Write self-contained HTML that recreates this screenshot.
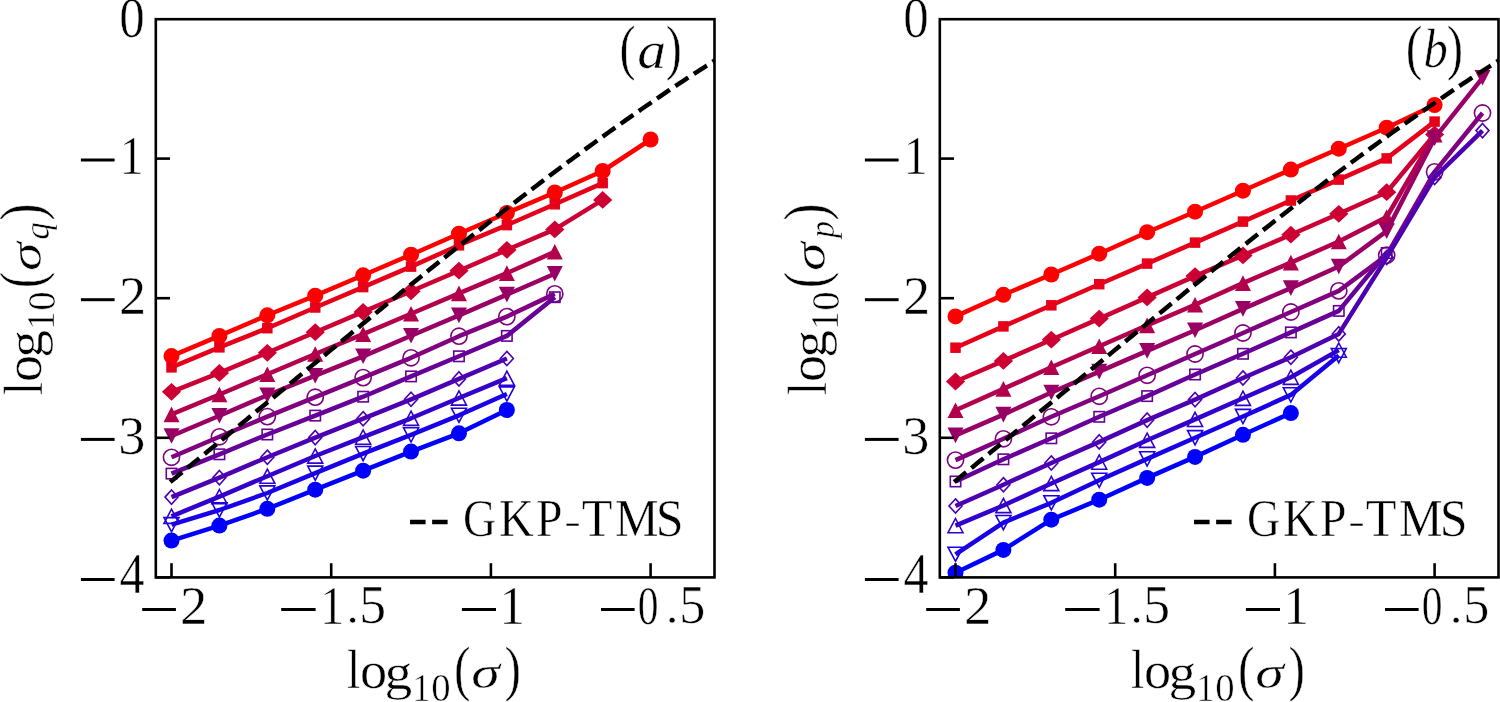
<!DOCTYPE html>
<html><head><meta charset="utf-8"><style>
html,body{margin:0;padding:0;background:#fff;}
svg{display:block;will-change:transform;}
text{font-family:"Liberation Serif", serif;fill:#000;stroke:#fff;stroke-width:0.5px;vector-effect:non-scaling-stroke;}
</style></head><body>
<svg width="1500" height="702" viewBox="0 0 1500 702">
<rect width="1500" height="702" fill="#fff"/>
<clipPath id="clip0"><rect x="155.80" y="19.2" width="558.7" height="558.2"/></clipPath>
<g clip-path="url(#clip0)"><polyline points="171.50,356.10 219.41,335.90 267.32,315.30 315.23,295.70 363.14,275.30 411.05,254.70 458.96,233.70 506.87,213.00 554.78,192.50 602.69,171.00 650.60,139.50" fill="none" stroke="#ff0000" stroke-width="4.5" stroke-linejoin="round" stroke-linecap="butt"/><circle cx="171.50" cy="356.10" r="8.0" fill="#ff0000"/><circle cx="219.41" cy="335.90" r="8.0" fill="#ff0000"/><circle cx="267.32" cy="315.30" r="8.0" fill="#ff0000"/><circle cx="315.23" cy="295.70" r="8.0" fill="#ff0000"/><circle cx="363.14" cy="275.30" r="8.0" fill="#ff0000"/><circle cx="411.05" cy="254.70" r="8.0" fill="#ff0000"/><circle cx="458.96" cy="233.70" r="8.0" fill="#ff0000"/><circle cx="506.87" cy="213.00" r="8.0" fill="#ff0000"/><circle cx="554.78" cy="192.50" r="8.0" fill="#ff0000"/><circle cx="602.69" cy="171.00" r="8.0" fill="#ff0000"/><circle cx="650.60" cy="139.50" r="8.0" fill="#ff0000"/><polyline points="171.50,367.35 219.41,347.35 267.32,328.20 315.23,307.50 363.14,287.10 411.05,266.60 458.96,245.30 506.87,225.10 554.78,204.30 602.69,183.10" fill="none" stroke="#e6001a" stroke-width="4.5" stroke-linejoin="round" stroke-linecap="butt"/><rect x="166.25" y="362.10" width="10.50" height="10.50" fill="#e6001a"/><rect x="214.16" y="342.10" width="10.50" height="10.50" fill="#e6001a"/><rect x="262.07" y="322.95" width="10.50" height="10.50" fill="#e6001a"/><rect x="309.98" y="302.25" width="10.50" height="10.50" fill="#e6001a"/><rect x="357.89" y="281.85" width="10.50" height="10.50" fill="#e6001a"/><rect x="405.80" y="261.35" width="10.50" height="10.50" fill="#e6001a"/><rect x="453.71" y="240.05" width="10.50" height="10.50" fill="#e6001a"/><rect x="501.62" y="219.85" width="10.50" height="10.50" fill="#e6001a"/><rect x="549.53" y="199.05" width="10.50" height="10.50" fill="#e6001a"/><rect x="597.44" y="177.85" width="10.50" height="10.50" fill="#e6001a"/><polyline points="171.50,391.80 219.41,372.90 267.32,352.80 315.23,332.20 363.14,311.90 411.05,291.30 458.96,270.70 506.87,249.90 554.78,229.40 602.69,199.90" fill="none" stroke="#cc0033" stroke-width="4.5" stroke-linejoin="round" stroke-linecap="butt"/><path d="M171.50 382.90L181.10 391.80L171.50 400.70L161.90 391.80Z" fill="#cc0033"/><path d="M219.41 364.00L229.01 372.90L219.41 381.80L209.81 372.90Z" fill="#cc0033"/><path d="M267.32 343.90L276.92 352.80L267.32 361.70L257.72 352.80Z" fill="#cc0033"/><path d="M315.23 323.30L324.83 332.20L315.23 341.10L305.63 332.20Z" fill="#cc0033"/><path d="M363.14 303.00L372.74 311.90L363.14 320.80L353.54 311.90Z" fill="#cc0033"/><path d="M411.05 282.40L420.65 291.30L411.05 300.20L401.45 291.30Z" fill="#cc0033"/><path d="M458.96 261.80L468.56 270.70L458.96 279.60L449.36 270.70Z" fill="#cc0033"/><path d="M506.87 241.00L516.47 249.90L506.87 258.80L497.27 249.90Z" fill="#cc0033"/><path d="M554.78 220.50L564.38 229.40L554.78 238.30L545.18 229.40Z" fill="#cc0033"/><path d="M602.69 191.00L612.29 199.90L602.69 208.80L593.09 199.90Z" fill="#cc0033"/><polyline points="171.50,414.40 219.41,394.50 267.32,374.20 315.23,354.00 363.14,334.10 411.05,313.80 458.96,293.40 506.87,273.10 554.78,251.80" fill="none" stroke="#b2004c" stroke-width="4.5" stroke-linejoin="round" stroke-linecap="butt"/><path d="M171.50 406.60L179.50 422.20L163.50 422.20Z" fill="#b2004c"/><path d="M219.41 386.70L227.41 402.30L211.41 402.30Z" fill="#b2004c"/><path d="M267.32 366.40L275.32 382.00L259.32 382.00Z" fill="#b2004c"/><path d="M315.23 346.20L323.23 361.80L307.23 361.80Z" fill="#b2004c"/><path d="M363.14 326.30L371.14 341.90L355.14 341.90Z" fill="#b2004c"/><path d="M411.05 306.00L419.05 321.60L403.05 321.60Z" fill="#b2004c"/><path d="M458.96 285.60L466.96 301.20L450.96 301.20Z" fill="#b2004c"/><path d="M506.87 265.30L514.87 280.90L498.87 280.90Z" fill="#b2004c"/><path d="M554.78 244.00L562.78 259.60L546.78 259.60Z" fill="#b2004c"/><polyline points="171.50,436.00 219.41,415.70 267.32,395.20 315.23,375.70 363.14,356.30 411.05,335.70 458.96,315.40 506.87,294.60 554.78,273.80" fill="none" stroke="#990066" stroke-width="4.5" stroke-linejoin="round" stroke-linecap="butt"/><path d="M171.50 443.80L179.50 428.20L163.50 428.20Z" fill="#990066"/><path d="M219.41 423.50L227.41 407.90L211.41 407.90Z" fill="#990066"/><path d="M267.32 403.00L275.32 387.40L259.32 387.40Z" fill="#990066"/><path d="M315.23 383.50L323.23 367.90L307.23 367.90Z" fill="#990066"/><path d="M363.14 364.10L371.14 348.50L355.14 348.50Z" fill="#990066"/><path d="M411.05 343.50L419.05 327.90L403.05 327.90Z" fill="#990066"/><path d="M458.96 323.20L466.96 307.60L450.96 307.60Z" fill="#990066"/><path d="M506.87 302.40L514.87 286.80L498.87 286.80Z" fill="#990066"/><path d="M554.78 281.60L562.78 266.00L546.78 266.00Z" fill="#990066"/><polyline points="171.50,457.30 219.41,436.80 267.32,416.60 315.23,397.20 363.14,377.60 411.05,357.80 458.96,336.20 506.87,316.60 554.78,293.90" fill="none" stroke="#800080" stroke-width="4.5" stroke-linejoin="round" stroke-linecap="butt"/><circle cx="171.50" cy="457.30" r="8.1" fill="none" stroke="#800080" stroke-width="1.6"/><circle cx="219.41" cy="436.80" r="8.1" fill="none" stroke="#800080" stroke-width="1.6"/><circle cx="267.32" cy="416.60" r="8.1" fill="none" stroke="#800080" stroke-width="1.6"/><circle cx="315.23" cy="397.20" r="8.1" fill="none" stroke="#800080" stroke-width="1.6"/><circle cx="363.14" cy="377.60" r="8.1" fill="none" stroke="#800080" stroke-width="1.6"/><circle cx="411.05" cy="357.80" r="8.1" fill="none" stroke="#800080" stroke-width="1.6"/><circle cx="458.96" cy="336.20" r="8.1" fill="none" stroke="#800080" stroke-width="1.6"/><circle cx="506.87" cy="316.60" r="8.1" fill="none" stroke="#800080" stroke-width="1.6"/><circle cx="554.78" cy="293.90" r="8.1" fill="none" stroke="#800080" stroke-width="1.6"/><polyline points="171.50,473.60 219.41,454.30 267.32,434.50 315.23,415.60 363.14,396.70 411.05,376.40 458.96,356.30 506.87,335.90 554.78,297.20" fill="none" stroke="#660099" stroke-width="4.5" stroke-linejoin="round" stroke-linecap="butt"/><rect x="166.30" y="468.40" width="10.40" height="10.40" fill="none" stroke="#660099" stroke-width="1.6"/><rect x="214.21" y="449.10" width="10.40" height="10.40" fill="none" stroke="#660099" stroke-width="1.6"/><rect x="262.12" y="429.30" width="10.40" height="10.40" fill="none" stroke="#660099" stroke-width="1.6"/><rect x="310.03" y="410.40" width="10.40" height="10.40" fill="none" stroke="#660099" stroke-width="1.6"/><rect x="357.94" y="391.50" width="10.40" height="10.40" fill="none" stroke="#660099" stroke-width="1.6"/><rect x="405.85" y="371.20" width="10.40" height="10.40" fill="none" stroke="#660099" stroke-width="1.6"/><rect x="453.76" y="351.10" width="10.40" height="10.40" fill="none" stroke="#660099" stroke-width="1.6"/><rect x="501.67" y="330.70" width="10.40" height="10.40" fill="none" stroke="#660099" stroke-width="1.6"/><rect x="549.58" y="292.00" width="10.40" height="10.40" fill="none" stroke="#660099" stroke-width="1.6"/><polyline points="171.50,497.10 219.41,477.60 267.32,457.20 315.23,437.60 363.14,418.70 411.05,399.30 458.96,378.90 506.87,358.50" fill="none" stroke="#4d00b2" stroke-width="4.5" stroke-linejoin="round" stroke-linecap="butt"/><path d="M171.50 490.00L178.00 497.10L171.50 504.20L165.00 497.10Z" fill="none" stroke="#4d00b2" stroke-width="1.6"/><path d="M219.41 470.50L225.91 477.60L219.41 484.70L212.91 477.60Z" fill="none" stroke="#4d00b2" stroke-width="1.6"/><path d="M267.32 450.10L273.82 457.20L267.32 464.30L260.82 457.20Z" fill="none" stroke="#4d00b2" stroke-width="1.6"/><path d="M315.23 430.50L321.73 437.60L315.23 444.70L308.73 437.60Z" fill="none" stroke="#4d00b2" stroke-width="1.6"/><path d="M363.14 411.60L369.64 418.70L363.14 425.80L356.64 418.70Z" fill="none" stroke="#4d00b2" stroke-width="1.6"/><path d="M411.05 392.20L417.55 399.30L411.05 406.40L404.55 399.30Z" fill="none" stroke="#4d00b2" stroke-width="1.6"/><path d="M458.96 371.80L465.46 378.90L458.96 386.00L452.46 378.90Z" fill="none" stroke="#4d00b2" stroke-width="1.6"/><path d="M506.87 351.40L513.37 358.50L506.87 365.60L500.37 358.50Z" fill="none" stroke="#4d00b2" stroke-width="1.6"/><polyline points="171.50,516.30 219.41,496.60 267.32,476.20 315.23,456.00 363.14,437.10 411.05,418.30 458.96,398.00 506.87,378.20" fill="none" stroke="#3300cc" stroke-width="4.5" stroke-linejoin="round" stroke-linecap="butt"/><path d="M171.50 509.20L179.00 523.40L164.00 523.40Z" fill="none" stroke="#3300cc" stroke-width="1.6"/><path d="M219.41 489.50L226.91 503.70L211.91 503.70Z" fill="none" stroke="#3300cc" stroke-width="1.6"/><path d="M267.32 469.10L274.82 483.30L259.82 483.30Z" fill="none" stroke="#3300cc" stroke-width="1.6"/><path d="M315.23 448.90L322.73 463.10L307.73 463.10Z" fill="none" stroke="#3300cc" stroke-width="1.6"/><path d="M363.14 430.00L370.64 444.20L355.64 444.20Z" fill="none" stroke="#3300cc" stroke-width="1.6"/><path d="M411.05 411.20L418.55 425.40L403.55 425.40Z" fill="none" stroke="#3300cc" stroke-width="1.6"/><path d="M458.96 390.90L466.46 405.10L451.46 405.10Z" fill="none" stroke="#3300cc" stroke-width="1.6"/><path d="M506.87 371.10L514.37 385.30L499.37 385.30Z" fill="none" stroke="#3300cc" stroke-width="1.6"/><polyline points="171.50,524.70 219.41,510.00 267.32,493.00 315.23,473.20 363.14,453.60 411.05,434.90 458.96,415.30 506.87,394.00" fill="none" stroke="#1900e6" stroke-width="4.5" stroke-linejoin="round" stroke-linecap="butt"/><path d="M171.50 531.80L179.00 517.60L164.00 517.60Z" fill="none" stroke="#1900e6" stroke-width="1.6"/><path d="M219.41 517.10L226.91 502.90L211.91 502.90Z" fill="none" stroke="#1900e6" stroke-width="1.6"/><path d="M267.32 500.10L274.82 485.90L259.82 485.90Z" fill="none" stroke="#1900e6" stroke-width="1.6"/><path d="M315.23 480.30L322.73 466.10L307.73 466.10Z" fill="none" stroke="#1900e6" stroke-width="1.6"/><path d="M363.14 460.70L370.64 446.50L355.64 446.50Z" fill="none" stroke="#1900e6" stroke-width="1.6"/><path d="M411.05 442.00L418.55 427.80L403.55 427.80Z" fill="none" stroke="#1900e6" stroke-width="1.6"/><path d="M458.96 422.40L466.46 408.20L451.46 408.20Z" fill="none" stroke="#1900e6" stroke-width="1.6"/><path d="M506.87 401.10L514.37 386.90L499.37 386.90Z" fill="none" stroke="#1900e6" stroke-width="1.6"/><polyline points="171.50,540.60 219.41,525.60 267.32,508.80 315.23,489.70 363.14,470.70 411.05,451.60 458.96,433.30 506.87,410.00" fill="none" stroke="#0000ff" stroke-width="4.5" stroke-linejoin="round" stroke-linecap="butt"/><circle cx="171.50" cy="540.60" r="8.0" fill="#0000ff"/><circle cx="219.41" cy="525.60" r="8.0" fill="#0000ff"/><circle cx="267.32" cy="508.80" r="8.0" fill="#0000ff"/><circle cx="315.23" cy="489.70" r="8.0" fill="#0000ff"/><circle cx="363.14" cy="470.70" r="8.0" fill="#0000ff"/><circle cx="411.05" cy="451.60" r="8.0" fill="#0000ff"/><circle cx="458.96" cy="433.30" r="8.0" fill="#0000ff"/><circle cx="506.87" cy="410.00" r="8.0" fill="#0000ff"/><polyline points="170.20,481.95 174.90,478.14 179.61,474.32 184.31,470.50 189.02,466.67 193.72,462.84 198.43,459.00 203.13,455.16 207.83,451.31 212.54,447.46 217.24,443.61 221.95,439.75 226.65,435.89 231.35,432.03 236.06,428.16 240.76,424.30 245.47,420.43 250.17,416.55 254.88,412.68 259.58,408.80 264.28,404.93 268.99,401.05 273.69,397.17 278.40,393.29 283.10,389.41 287.81,385.53 292.51,381.65 297.21,377.77 301.92,373.88 306.62,370.01 311.33,366.13 316.03,362.25 320.73,358.37 325.44,354.50 330.14,350.62 334.85,346.75 339.55,342.88 344.26,339.01 348.96,335.15 353.66,331.29 358.37,327.43 363.07,323.57 367.78,319.72 372.48,315.87 377.18,312.03 381.89,308.19 386.59,304.35 391.30,300.52 396.00,296.69 400.71,292.87 405.41,289.05 410.11,285.24 414.82,281.44 419.52,277.64 424.23,273.85 428.93,270.06 433.64,266.28 438.34,262.50 443.04,258.74 447.75,254.98 452.45,251.23 457.16,247.48 461.86,243.74 466.56,240.02 471.27,236.30 475.97,232.58 480.68,228.88 485.38,225.19 490.09,221.50 494.79,217.83 499.49,214.16 504.20,210.51 508.90,206.86 513.61,203.23 518.31,199.60 523.02,195.99 527.72,192.38 532.42,188.79 537.13,185.21 541.83,181.64 546.54,178.09 551.24,174.54 555.94,171.01 560.65,167.49 565.35,163.98 570.06,160.49 574.76,157.00 579.47,153.54 584.17,150.08 588.87,146.64 593.58,143.22 598.28,139.80 602.99,136.41 607.69,133.02 612.39,129.66 617.10,126.30 621.80,122.97 626.51,119.64 631.21,116.34 635.92,113.05 640.62,109.77 645.32,106.52 650.03,103.28 654.73,100.05 659.44,96.85 664.14,93.66 668.85,90.49 673.55,87.33 678.25,84.20 682.96,81.08 687.66,77.98 692.37,74.90 697.07,71.84 701.77,68.80 706.48,65.78 711.18,62.77 715.89,59.79 720.59,56.83 725.30,53.88 730.00,50.96" fill="none" stroke="#000" stroke-width="4.5" stroke-dasharray="15.5 6.64"/></g>
<clipPath id="clip1"><rect x="939.80" y="19.2" width="558.7" height="558.2"/></clipPath>
<g clip-path="url(#clip1)"><polyline points="955.50,316.40 1003.41,294.80 1051.32,274.50 1099.23,253.70 1147.14,232.20 1195.05,211.70 1242.96,190.70 1290.87,169.60 1338.78,148.70 1386.69,127.70 1434.60,105.00" fill="none" stroke="#ff0000" stroke-width="4.5" stroke-linejoin="round" stroke-linecap="butt"/><circle cx="955.50" cy="316.40" r="8.0" fill="#ff0000"/><circle cx="1003.41" cy="294.80" r="8.0" fill="#ff0000"/><circle cx="1051.32" cy="274.50" r="8.0" fill="#ff0000"/><circle cx="1099.23" cy="253.70" r="8.0" fill="#ff0000"/><circle cx="1147.14" cy="232.20" r="8.0" fill="#ff0000"/><circle cx="1195.05" cy="211.70" r="8.0" fill="#ff0000"/><circle cx="1242.96" cy="190.70" r="8.0" fill="#ff0000"/><circle cx="1290.87" cy="169.60" r="8.0" fill="#ff0000"/><circle cx="1338.78" cy="148.70" r="8.0" fill="#ff0000"/><circle cx="1386.69" cy="127.70" r="8.0" fill="#ff0000"/><circle cx="1434.60" cy="105.00" r="8.0" fill="#ff0000"/><polyline points="955.50,347.70 1003.41,326.40 1051.32,305.30 1099.23,284.20 1147.14,263.60 1195.05,242.60 1242.96,221.60 1290.87,200.50 1338.78,179.60 1386.69,158.40 1434.60,121.60" fill="none" stroke="#e6001a" stroke-width="4.5" stroke-linejoin="round" stroke-linecap="butt"/><rect x="950.25" y="342.45" width="10.50" height="10.50" fill="#e6001a"/><rect x="998.16" y="321.15" width="10.50" height="10.50" fill="#e6001a"/><rect x="1046.07" y="300.05" width="10.50" height="10.50" fill="#e6001a"/><rect x="1093.98" y="278.95" width="10.50" height="10.50" fill="#e6001a"/><rect x="1141.89" y="258.35" width="10.50" height="10.50" fill="#e6001a"/><rect x="1189.80" y="237.35" width="10.50" height="10.50" fill="#e6001a"/><rect x="1237.71" y="216.35" width="10.50" height="10.50" fill="#e6001a"/><rect x="1285.62" y="195.25" width="10.50" height="10.50" fill="#e6001a"/><rect x="1333.53" y="174.35" width="10.50" height="10.50" fill="#e6001a"/><rect x="1381.44" y="153.15" width="10.50" height="10.50" fill="#e6001a"/><rect x="1429.35" y="116.35" width="10.50" height="10.50" fill="#e6001a"/><polyline points="955.50,381.50 1003.41,360.90 1051.32,339.70 1099.23,318.60 1147.14,297.40 1195.05,276.10 1242.96,255.40 1290.87,234.70 1338.78,213.80 1386.69,192.20 1434.60,134.50" fill="none" stroke="#cc0033" stroke-width="4.5" stroke-linejoin="round" stroke-linecap="butt"/><path d="M955.50 372.60L965.10 381.50L955.50 390.40L945.90 381.50Z" fill="#cc0033"/><path d="M1003.41 352.00L1013.01 360.90L1003.41 369.80L993.81 360.90Z" fill="#cc0033"/><path d="M1051.32 330.80L1060.92 339.70L1051.32 348.60L1041.72 339.70Z" fill="#cc0033"/><path d="M1099.23 309.70L1108.83 318.60L1099.23 327.50L1089.63 318.60Z" fill="#cc0033"/><path d="M1147.14 288.50L1156.74 297.40L1147.14 306.30L1137.54 297.40Z" fill="#cc0033"/><path d="M1195.05 267.20L1204.65 276.10L1195.05 285.00L1185.45 276.10Z" fill="#cc0033"/><path d="M1242.96 246.50L1252.56 255.40L1242.96 264.30L1233.36 255.40Z" fill="#cc0033"/><path d="M1290.87 225.80L1300.47 234.70L1290.87 243.60L1281.27 234.70Z" fill="#cc0033"/><path d="M1338.78 204.90L1348.38 213.80L1338.78 222.70L1329.18 213.80Z" fill="#cc0033"/><path d="M1386.69 183.30L1396.29 192.20L1386.69 201.10L1377.09 192.20Z" fill="#cc0033"/><path d="M1434.60 125.60L1444.20 134.50L1434.60 143.40L1425.00 134.50Z" fill="#cc0033"/><polyline points="955.50,410.20 1003.41,388.90 1051.32,367.30 1099.23,346.20 1147.14,325.40 1195.05,304.80 1242.96,283.10 1290.87,262.60 1338.78,241.50 1386.69,217.00 1434.60,134.80" fill="none" stroke="#b2004c" stroke-width="4.5" stroke-linejoin="round" stroke-linecap="butt"/><path d="M955.50 402.40L963.50 418.00L947.50 418.00Z" fill="#b2004c"/><path d="M1003.41 381.10L1011.41 396.70L995.41 396.70Z" fill="#b2004c"/><path d="M1051.32 359.50L1059.32 375.10L1043.32 375.10Z" fill="#b2004c"/><path d="M1099.23 338.40L1107.23 354.00L1091.23 354.00Z" fill="#b2004c"/><path d="M1147.14 317.60L1155.14 333.20L1139.14 333.20Z" fill="#b2004c"/><path d="M1195.05 297.00L1203.05 312.60L1187.05 312.60Z" fill="#b2004c"/><path d="M1242.96 275.30L1250.96 290.90L1234.96 290.90Z" fill="#b2004c"/><path d="M1290.87 254.80L1298.87 270.40L1282.87 270.40Z" fill="#b2004c"/><path d="M1338.78 233.70L1346.78 249.30L1330.78 249.30Z" fill="#b2004c"/><path d="M1386.69 209.20L1394.69 224.80L1378.69 224.80Z" fill="#b2004c"/><path d="M1434.60 127.00L1442.60 142.60L1426.60 142.60Z" fill="#b2004c"/><polyline points="955.50,435.40 1003.41,414.60 1051.32,392.50 1099.23,371.60 1147.14,350.90 1195.05,330.30 1242.96,308.90 1290.87,288.10 1338.78,266.50 1386.69,231.10 1434.60,138.10 1482.51,77.80" fill="none" stroke="#990066" stroke-width="4.5" stroke-linejoin="round" stroke-linecap="butt"/><path d="M955.50 443.20L963.50 427.60L947.50 427.60Z" fill="#990066"/><path d="M1003.41 422.40L1011.41 406.80L995.41 406.80Z" fill="#990066"/><path d="M1051.32 400.30L1059.32 384.70L1043.32 384.70Z" fill="#990066"/><path d="M1099.23 379.40L1107.23 363.80L1091.23 363.80Z" fill="#990066"/><path d="M1147.14 358.70L1155.14 343.10L1139.14 343.10Z" fill="#990066"/><path d="M1195.05 338.10L1203.05 322.50L1187.05 322.50Z" fill="#990066"/><path d="M1242.96 316.70L1250.96 301.10L1234.96 301.10Z" fill="#990066"/><path d="M1290.87 295.90L1298.87 280.30L1282.87 280.30Z" fill="#990066"/><path d="M1338.78 274.30L1346.78 258.70L1330.78 258.70Z" fill="#990066"/><path d="M1386.69 238.90L1394.69 223.30L1378.69 223.30Z" fill="#990066"/><path d="M1434.60 145.90L1442.60 130.30L1426.60 130.30Z" fill="#990066"/><path d="M1482.51 85.60L1490.51 70.00L1474.51 70.00Z" fill="#990066"/><polyline points="955.50,460.10 1003.41,438.80 1051.32,416.80 1099.23,396.30 1147.14,375.30 1195.05,354.00 1242.96,333.00 1290.87,312.00 1338.78,290.90 1386.69,255.20 1434.60,171.90 1482.51,113.00" fill="none" stroke="#800080" stroke-width="4.5" stroke-linejoin="round" stroke-linecap="butt"/><circle cx="955.50" cy="460.10" r="8.1" fill="none" stroke="#800080" stroke-width="1.6"/><circle cx="1003.41" cy="438.80" r="8.1" fill="none" stroke="#800080" stroke-width="1.6"/><circle cx="1051.32" cy="416.80" r="8.1" fill="none" stroke="#800080" stroke-width="1.6"/><circle cx="1099.23" cy="396.30" r="8.1" fill="none" stroke="#800080" stroke-width="1.6"/><circle cx="1147.14" cy="375.30" r="8.1" fill="none" stroke="#800080" stroke-width="1.6"/><circle cx="1195.05" cy="354.00" r="8.1" fill="none" stroke="#800080" stroke-width="1.6"/><circle cx="1242.96" cy="333.00" r="8.1" fill="none" stroke="#800080" stroke-width="1.6"/><circle cx="1290.87" cy="312.00" r="8.1" fill="none" stroke="#800080" stroke-width="1.6"/><circle cx="1338.78" cy="290.90" r="8.1" fill="none" stroke="#800080" stroke-width="1.6"/><circle cx="1386.69" cy="255.20" r="8.1" fill="none" stroke="#800080" stroke-width="1.6"/><circle cx="1434.60" cy="171.90" r="8.1" fill="none" stroke="#800080" stroke-width="1.6"/><circle cx="1482.51" cy="113.00" r="8.1" fill="none" stroke="#800080" stroke-width="1.6"/><polyline points="955.50,481.50 1003.41,459.30 1051.32,438.30 1099.23,416.80 1147.14,396.10 1195.05,374.50 1242.96,353.80 1290.87,332.40 1338.78,310.90 1386.69,253.00" fill="none" stroke="#660099" stroke-width="4.5" stroke-linejoin="round" stroke-linecap="butt"/><rect x="950.30" y="476.30" width="10.40" height="10.40" fill="none" stroke="#660099" stroke-width="1.6"/><rect x="998.21" y="454.10" width="10.40" height="10.40" fill="none" stroke="#660099" stroke-width="1.6"/><rect x="1046.12" y="433.10" width="10.40" height="10.40" fill="none" stroke="#660099" stroke-width="1.6"/><rect x="1094.03" y="411.60" width="10.40" height="10.40" fill="none" stroke="#660099" stroke-width="1.6"/><rect x="1141.94" y="390.90" width="10.40" height="10.40" fill="none" stroke="#660099" stroke-width="1.6"/><rect x="1189.85" y="369.30" width="10.40" height="10.40" fill="none" stroke="#660099" stroke-width="1.6"/><rect x="1237.76" y="348.60" width="10.40" height="10.40" fill="none" stroke="#660099" stroke-width="1.6"/><rect x="1285.67" y="327.20" width="10.40" height="10.40" fill="none" stroke="#660099" stroke-width="1.6"/><rect x="1333.58" y="305.70" width="10.40" height="10.40" fill="none" stroke="#660099" stroke-width="1.6"/><rect x="1381.49" y="247.80" width="10.40" height="10.40" fill="none" stroke="#660099" stroke-width="1.6"/><polyline points="955.50,506.00 1003.41,484.70 1051.32,463.00 1099.23,441.90 1147.14,420.10 1195.05,399.60 1242.96,378.00 1290.87,357.20 1338.78,333.90 1386.69,257.50 1434.60,177.40 1482.51,130.60" fill="none" stroke="#4d00b2" stroke-width="4.5" stroke-linejoin="round" stroke-linecap="butt"/><path d="M955.50 498.90L962.00 506.00L955.50 513.10L949.00 506.00Z" fill="none" stroke="#4d00b2" stroke-width="1.6"/><path d="M1003.41 477.60L1009.91 484.70L1003.41 491.80L996.91 484.70Z" fill="none" stroke="#4d00b2" stroke-width="1.6"/><path d="M1051.32 455.90L1057.82 463.00L1051.32 470.10L1044.82 463.00Z" fill="none" stroke="#4d00b2" stroke-width="1.6"/><path d="M1099.23 434.80L1105.73 441.90L1099.23 449.00L1092.73 441.90Z" fill="none" stroke="#4d00b2" stroke-width="1.6"/><path d="M1147.14 413.00L1153.64 420.10L1147.14 427.20L1140.64 420.10Z" fill="none" stroke="#4d00b2" stroke-width="1.6"/><path d="M1195.05 392.50L1201.55 399.60L1195.05 406.70L1188.55 399.60Z" fill="none" stroke="#4d00b2" stroke-width="1.6"/><path d="M1242.96 370.90L1249.46 378.00L1242.96 385.10L1236.46 378.00Z" fill="none" stroke="#4d00b2" stroke-width="1.6"/><path d="M1290.87 350.10L1297.37 357.20L1290.87 364.30L1284.37 357.20Z" fill="none" stroke="#4d00b2" stroke-width="1.6"/><path d="M1338.78 326.80L1345.28 333.90L1338.78 341.00L1332.28 333.90Z" fill="none" stroke="#4d00b2" stroke-width="1.6"/><path d="M1386.69 250.40L1393.19 257.50L1386.69 264.60L1380.19 257.50Z" fill="none" stroke="#4d00b2" stroke-width="1.6"/><path d="M1434.60 170.30L1441.10 177.40L1434.60 184.50L1428.10 177.40Z" fill="none" stroke="#4d00b2" stroke-width="1.6"/><path d="M1482.51 123.50L1489.01 130.60L1482.51 137.70L1476.01 130.60Z" fill="none" stroke="#4d00b2" stroke-width="1.6"/><polyline points="955.50,525.60 1003.41,505.50 1051.32,483.50 1099.23,462.10 1147.14,440.30 1195.05,419.40 1242.96,398.30 1290.87,377.30 1338.78,350.10" fill="none" stroke="#3300cc" stroke-width="4.5" stroke-linejoin="round" stroke-linecap="butt"/><path d="M955.50 518.50L963.00 532.70L948.00 532.70Z" fill="none" stroke="#3300cc" stroke-width="1.6"/><path d="M1003.41 498.40L1010.91 512.60L995.91 512.60Z" fill="none" stroke="#3300cc" stroke-width="1.6"/><path d="M1051.32 476.40L1058.82 490.60L1043.82 490.60Z" fill="none" stroke="#3300cc" stroke-width="1.6"/><path d="M1099.23 455.00L1106.73 469.20L1091.73 469.20Z" fill="none" stroke="#3300cc" stroke-width="1.6"/><path d="M1147.14 433.20L1154.64 447.40L1139.64 447.40Z" fill="none" stroke="#3300cc" stroke-width="1.6"/><path d="M1195.05 412.30L1202.55 426.50L1187.55 426.50Z" fill="none" stroke="#3300cc" stroke-width="1.6"/><path d="M1242.96 391.20L1250.46 405.40L1235.46 405.40Z" fill="none" stroke="#3300cc" stroke-width="1.6"/><path d="M1290.87 370.20L1298.37 384.40L1283.37 384.40Z" fill="none" stroke="#3300cc" stroke-width="1.6"/><path d="M1338.78 343.00L1346.28 357.20L1331.28 357.20Z" fill="none" stroke="#3300cc" stroke-width="1.6"/><polyline points="955.50,554.30 1003.41,522.60 1051.32,502.80 1099.23,480.30 1147.14,458.90 1195.05,437.70 1242.96,416.50 1290.87,394.90 1338.78,355.60" fill="none" stroke="#1900e6" stroke-width="4.5" stroke-linejoin="round" stroke-linecap="butt"/><path d="M955.50 561.40L963.00 547.20L948.00 547.20Z" fill="none" stroke="#1900e6" stroke-width="1.6"/><path d="M1003.41 529.70L1010.91 515.50L995.91 515.50Z" fill="none" stroke="#1900e6" stroke-width="1.6"/><path d="M1051.32 509.90L1058.82 495.70L1043.82 495.70Z" fill="none" stroke="#1900e6" stroke-width="1.6"/><path d="M1099.23 487.40L1106.73 473.20L1091.73 473.20Z" fill="none" stroke="#1900e6" stroke-width="1.6"/><path d="M1147.14 466.00L1154.64 451.80L1139.64 451.80Z" fill="none" stroke="#1900e6" stroke-width="1.6"/><path d="M1195.05 444.80L1202.55 430.60L1187.55 430.60Z" fill="none" stroke="#1900e6" stroke-width="1.6"/><path d="M1242.96 423.60L1250.46 409.40L1235.46 409.40Z" fill="none" stroke="#1900e6" stroke-width="1.6"/><path d="M1290.87 402.00L1298.37 387.80L1283.37 387.80Z" fill="none" stroke="#1900e6" stroke-width="1.6"/><path d="M1338.78 362.70L1346.28 348.50L1331.28 348.50Z" fill="none" stroke="#1900e6" stroke-width="1.6"/><polyline points="955.50,572.70 1003.41,549.90 1051.32,519.70 1099.23,499.70 1147.14,477.90 1195.05,456.90 1242.96,434.80 1290.87,413.10" fill="none" stroke="#0000ff" stroke-width="4.5" stroke-linejoin="round" stroke-linecap="butt"/><circle cx="955.50" cy="572.70" r="8.0" fill="#0000ff"/><circle cx="1003.41" cy="549.90" r="8.0" fill="#0000ff"/><circle cx="1051.32" cy="519.70" r="8.0" fill="#0000ff"/><circle cx="1099.23" cy="499.70" r="8.0" fill="#0000ff"/><circle cx="1147.14" cy="477.90" r="8.0" fill="#0000ff"/><circle cx="1195.05" cy="456.90" r="8.0" fill="#0000ff"/><circle cx="1242.96" cy="434.80" r="8.0" fill="#0000ff"/><circle cx="1290.87" cy="413.10" r="8.0" fill="#0000ff"/><polyline points="954.20,481.95 958.90,478.14 963.61,474.32 968.31,470.50 973.02,466.67 977.72,462.84 982.43,459.00 987.13,455.16 991.83,451.31 996.54,447.46 1001.24,443.61 1005.95,439.75 1010.65,435.89 1015.35,432.03 1020.06,428.16 1024.76,424.30 1029.47,420.43 1034.17,416.55 1038.88,412.68 1043.58,408.80 1048.28,404.93 1052.99,401.05 1057.69,397.17 1062.40,393.29 1067.10,389.41 1071.81,385.53 1076.51,381.65 1081.21,377.77 1085.92,373.88 1090.62,370.01 1095.33,366.13 1100.03,362.25 1104.73,358.37 1109.44,354.50 1114.14,350.62 1118.85,346.75 1123.55,342.88 1128.26,339.01 1132.96,335.15 1137.66,331.29 1142.37,327.43 1147.07,323.57 1151.78,319.72 1156.48,315.87 1161.18,312.03 1165.89,308.19 1170.59,304.35 1175.30,300.52 1180.00,296.69 1184.71,292.87 1189.41,289.05 1194.11,285.24 1198.82,281.44 1203.52,277.64 1208.23,273.85 1212.93,270.06 1217.64,266.28 1222.34,262.50 1227.04,258.74 1231.75,254.98 1236.45,251.23 1241.16,247.48 1245.86,243.74 1250.56,240.02 1255.27,236.30 1259.97,232.58 1264.68,228.88 1269.38,225.19 1274.09,221.50 1278.79,217.83 1283.49,214.16 1288.20,210.51 1292.90,206.86 1297.61,203.23 1302.31,199.60 1307.02,195.99 1311.72,192.38 1316.42,188.79 1321.13,185.21 1325.83,181.64 1330.54,178.09 1335.24,174.54 1339.94,171.01 1344.65,167.49 1349.35,163.98 1354.06,160.49 1358.76,157.00 1363.47,153.54 1368.17,150.08 1372.87,146.64 1377.58,143.22 1382.28,139.80 1386.99,136.41 1391.69,133.02 1396.39,129.66 1401.10,126.30 1405.80,122.97 1410.51,119.64 1415.21,116.34 1419.92,113.05 1424.62,109.77 1429.32,106.52 1434.03,103.28 1438.73,100.05 1443.44,96.85 1448.14,93.66 1452.85,90.49 1457.55,87.33 1462.25,84.20 1466.96,81.08 1471.66,77.98 1476.37,74.90 1481.07,71.84 1485.77,68.80 1490.48,65.78 1495.18,62.77 1499.89,59.79 1504.59,56.83 1509.30,53.88 1514.00,50.96" fill="none" stroke="#000" stroke-width="4.5" stroke-dasharray="15.5 6.64"/></g>
<rect x="155.80" y="19.20" width="558.70" height="558.20" fill="none" stroke="#000" stroke-width="2.6"/>
<line x1="155.80" y1="158.60" x2="170.00" y2="158.60" stroke="#000" stroke-width="2.6"/>
<line x1="155.80" y1="298.20" x2="170.00" y2="298.20" stroke="#000" stroke-width="2.6"/>
<line x1="155.80" y1="437.80" x2="170.00" y2="437.80" stroke="#000" stroke-width="2.6"/>
<line x1="155.80" y1="577.40" x2="170.00" y2="577.40" stroke="#000" stroke-width="2.6"/>
<line x1="171.50" y1="577.40" x2="171.50" y2="563.20" stroke="#000" stroke-width="2.6"/>
<line x1="331.20" y1="577.40" x2="331.20" y2="563.20" stroke="#000" stroke-width="2.6"/>
<line x1="490.90" y1="577.40" x2="490.90" y2="563.20" stroke="#000" stroke-width="2.6"/>
<line x1="650.60" y1="577.40" x2="650.60" y2="563.20" stroke="#000" stroke-width="2.6"/>
<text transform="matrix(0.5096 0 0 0.5631 119.26 36.85)" font-size="100">0</text>
<rect x="80.90" y="158.50" width="33.70" height="3.00"/>
<text transform="matrix(0.4772 0 0 0.5590 119.81 173.90)" font-size="100">1</text>
<rect x="80.90" y="298.20" width="33.70" height="3.00"/>
<text transform="matrix(0.5438 0 0 0.5588 118.91 313.80)" font-size="100">2</text>
<rect x="80.90" y="437.90" width="33.70" height="3.00"/>
<text transform="matrix(0.5423 0 0 0.5596 118.31 453.75)" font-size="100">3</text>
<rect x="80.90" y="578.00" width="33.70" height="3.00"/>
<text transform="matrix(0.5012 0 0 0.5652 119.42 593.00)" font-size="100">4</text>
<rect x="142.20" y="608.00" width="33.70" height="3.00"/>
<text transform="matrix(0.5488 0 0 0.5543 180.09 623.60)" font-size="100">2</text>
<rect x="281.20" y="608.00" width="34.40" height="3.00"/>
<text transform="matrix(0.4772 0 0 0.5574 320.21 623.80)" font-size="100">1</text>
<text transform="matrix(0.4908 0 0 0.4739 346.56 622.93)" font-size="100">.</text>
<text transform="matrix(0.5362 0 0 0.5568 359.28 623.46)" font-size="100">5</text>
<rect x="461.90" y="608.00" width="34.10" height="3.00"/>
<text transform="matrix(0.5084 0 0 0.5574 499.43 623.80)" font-size="100">1</text>
<rect x="601.00" y="608.00" width="33.60" height="3.00"/>
<text transform="matrix(0.4153 0 0 0.5572 637.82 623.66)" font-size="100">0</text>
<text transform="matrix(0.5078 0 0 0.4739 665.65 622.93)" font-size="100">.</text>
<text transform="matrix(0.5213 0 0 0.5568 679.17 623.46)" font-size="100">5</text>
<text transform="matrix(0.4773 0 0 0.5549 346.99 688.40)" font-size="100">l</text>
<text transform="matrix(0.5427 0 0 0.5281 360.03 688.28)" font-size="100">o</text>
<text transform="matrix(0.5548 0 0 0.4979 384.42 688.65)" font-size="100">g</text>
<text transform="matrix(0.3636 0 0 0.3954 412.30 701.00)" font-size="100">1</text>
<text transform="matrix(0.3869 0 0 0.3986 431.33 701.41)" font-size="100">0</text>
<text transform="matrix(0.4984 0 0 0.6099 454.01 688.92)" font-size="100">(</text>
<text transform="matrix(0.5797 0 0 0.4739 471.27 688.34)" font-size="100" font-style="italic">σ</text>
<text transform="matrix(0.4945 0 0 0.6099 504.51 688.92)" font-size="100">)</text>
<rect x="939.80" y="19.20" width="558.70" height="558.20" fill="none" stroke="#000" stroke-width="2.6"/>
<line x1="939.80" y1="158.60" x2="954.00" y2="158.60" stroke="#000" stroke-width="2.6"/>
<line x1="939.80" y1="298.20" x2="954.00" y2="298.20" stroke="#000" stroke-width="2.6"/>
<line x1="939.80" y1="437.80" x2="954.00" y2="437.80" stroke="#000" stroke-width="2.6"/>
<line x1="939.80" y1="577.40" x2="954.00" y2="577.40" stroke="#000" stroke-width="2.6"/>
<line x1="955.50" y1="577.40" x2="955.50" y2="563.20" stroke="#000" stroke-width="2.6"/>
<line x1="1115.20" y1="577.40" x2="1115.20" y2="563.20" stroke="#000" stroke-width="2.6"/>
<line x1="1274.90" y1="577.40" x2="1274.90" y2="563.20" stroke="#000" stroke-width="2.6"/>
<line x1="1434.60" y1="577.40" x2="1434.60" y2="563.20" stroke="#000" stroke-width="2.6"/>
<text transform="matrix(0.5096 0 0 0.5631 903.26 36.85)" font-size="100">0</text>
<rect x="864.90" y="158.50" width="33.70" height="3.00"/>
<text transform="matrix(0.4772 0 0 0.5590 903.81 173.90)" font-size="100">1</text>
<rect x="864.90" y="298.20" width="33.70" height="3.00"/>
<text transform="matrix(0.5438 0 0 0.5588 902.91 313.80)" font-size="100">2</text>
<rect x="864.90" y="437.90" width="33.70" height="3.00"/>
<text transform="matrix(0.5423 0 0 0.5596 902.31 453.75)" font-size="100">3</text>
<rect x="864.90" y="578.00" width="33.70" height="3.00"/>
<text transform="matrix(0.5012 0 0 0.5652 903.42 593.00)" font-size="100">4</text>
<rect x="926.20" y="608.00" width="33.70" height="3.00"/>
<text transform="matrix(0.5488 0 0 0.5543 964.09 623.60)" font-size="100">2</text>
<rect x="1065.20" y="608.00" width="34.40" height="3.00"/>
<text transform="matrix(0.4772 0 0 0.5574 1104.21 623.80)" font-size="100">1</text>
<text transform="matrix(0.4908 0 0 0.4739 1130.56 622.93)" font-size="100">.</text>
<text transform="matrix(0.5362 0 0 0.5568 1143.28 623.46)" font-size="100">5</text>
<rect x="1245.90" y="608.00" width="34.10" height="3.00"/>
<text transform="matrix(0.5084 0 0 0.5574 1283.43 623.80)" font-size="100">1</text>
<rect x="1385.00" y="608.00" width="33.60" height="3.00"/>
<text transform="matrix(0.4153 0 0 0.5572 1421.82 623.66)" font-size="100">0</text>
<text transform="matrix(0.5078 0 0 0.4739 1449.65 622.93)" font-size="100">.</text>
<text transform="matrix(0.5213 0 0 0.5568 1463.17 623.46)" font-size="100">5</text>
<text transform="matrix(0.4773 0 0 0.5549 1130.99 688.40)" font-size="100">l</text>
<text transform="matrix(0.5427 0 0 0.5281 1144.03 688.28)" font-size="100">o</text>
<text transform="matrix(0.5548 0 0 0.4979 1168.42 688.65)" font-size="100">g</text>
<text transform="matrix(0.3636 0 0 0.3954 1196.30 701.00)" font-size="100">1</text>
<text transform="matrix(0.3869 0 0 0.3986 1215.33 701.41)" font-size="100">0</text>
<text transform="matrix(0.4984 0 0 0.6099 1238.01 688.92)" font-size="100">(</text>
<text transform="matrix(0.5797 0 0 0.4739 1255.27 688.34)" font-size="100" font-style="italic">σ</text>
<text transform="matrix(0.4945 0 0 0.6099 1288.51 688.92)" font-size="100">)</text>
<g transform="translate(41.50,394.2) rotate(-90)"><text transform="matrix(0.4773 0 0 0.5549 -0.96 0.00)" font-size="100">l</text><text transform="matrix(0.5427 0 0 0.5281 12.08 -0.12)" font-size="100">o</text><text transform="matrix(0.5548 0 0 0.4979 36.47 0.25)" font-size="100">g</text><text transform="matrix(0.3636 0 0 0.3954 64.35 12.60)" font-size="100">1</text><text transform="matrix(0.3869 0 0 0.3986 83.38 13.01)" font-size="100">0</text><text transform="matrix(0.4984 0 0 0.6099 106.06 0.52)" font-size="100">(</text><text transform="matrix(0.5797 0 0 0.4739 123.32 -0.06)" font-size="100" font-style="italic">σ</text><text transform="matrix(0.3541 0 0 0.3552 154.42 7.34)" font-size="100" font-style="italic">q</text><text transform="matrix(0.5178 0 0 0.6099 173.53 0.52)" font-size="100">)</text></g>
<g transform="translate(825.50,394.2) rotate(-90)"><text transform="matrix(0.4773 0 0 0.5549 -0.96 0.00)" font-size="100">l</text><text transform="matrix(0.5427 0 0 0.5281 12.08 -0.12)" font-size="100">o</text><text transform="matrix(0.5548 0 0 0.4979 36.47 0.25)" font-size="100">g</text><text transform="matrix(0.3636 0 0 0.3954 64.35 12.60)" font-size="100">1</text><text transform="matrix(0.3869 0 0 0.3986 83.38 13.01)" font-size="100">0</text><text transform="matrix(0.4984 0 0 0.6099 106.06 0.52)" font-size="100">(</text><text transform="matrix(0.5797 0 0 0.4739 123.32 -0.06)" font-size="100" font-style="italic">σ</text><text transform="matrix(0.3407 0 0 0.3552 156.10 8.04)" font-size="100" font-style="italic">p</text><text transform="matrix(0.5178 0 0 0.6099 173.53 0.52)" font-size="100">)</text></g>
<text transform="matrix(0.4828 0 0 0.6099 619.38 68.32)" font-size="100">(</text><text transform="matrix(0.5779 0 0 0.5302 637.18 67.86)" font-size="100" font-style="italic">a</text><text transform="matrix(0.4828 0 0 0.6099 665.84 68.32)" font-size="100">)</text>
<text transform="matrix(0.5023 0 0 0.6099 1405.79 68.32)" font-size="100">(</text><text transform="matrix(0.4854 0 0 0.5458 1423.60 67.37)" font-size="100" font-style="italic">b</text><text transform="matrix(0.4906 0 0 0.6099 1446.82 68.32)" font-size="100">)</text>
<line x1="410.00" y1="522" x2="447.60" y2="522" stroke="#000" stroke-width="4.5" stroke-dasharray="15.6 6.54"/>
<text transform="matrix(0.4601 0 0 0.5269 462.91 535.69)" font-size="100">G</text>
<text transform="matrix(0.4816 0 0 0.5315 499.11 535.60)" font-size="100">K</text>
<text transform="matrix(0.4761 0 0 0.5315 535.93 535.60)" font-size="100">P</text>
<text transform="matrix(0.4966 0 0 0.3614 564.16 533.06)" font-size="100">-</text>
<text transform="matrix(0.5033 0 0 0.5315 581.79 535.60)" font-size="100">T</text>
<text transform="matrix(0.4897 0 0 0.5315 615.09 535.60)" font-size="100">M</text>
<text transform="matrix(0.5009 0 0 0.5343 655.65 535.68)" font-size="100">S</text>
<line x1="1194.00" y1="522" x2="1231.60" y2="522" stroke="#000" stroke-width="4.5" stroke-dasharray="15.6 6.54"/>
<text transform="matrix(0.4601 0 0 0.5269 1246.91 535.69)" font-size="100">G</text>
<text transform="matrix(0.4816 0 0 0.5315 1283.11 535.60)" font-size="100">K</text>
<text transform="matrix(0.4761 0 0 0.5315 1319.93 535.60)" font-size="100">P</text>
<text transform="matrix(0.4966 0 0 0.3614 1348.16 533.06)" font-size="100">-</text>
<text transform="matrix(0.5033 0 0 0.5315 1365.79 535.60)" font-size="100">T</text>
<text transform="matrix(0.4897 0 0 0.5315 1399.09 535.60)" font-size="100">M</text>
<text transform="matrix(0.5009 0 0 0.5343 1439.65 535.68)" font-size="100">S</text>
</svg>
</body></html>
